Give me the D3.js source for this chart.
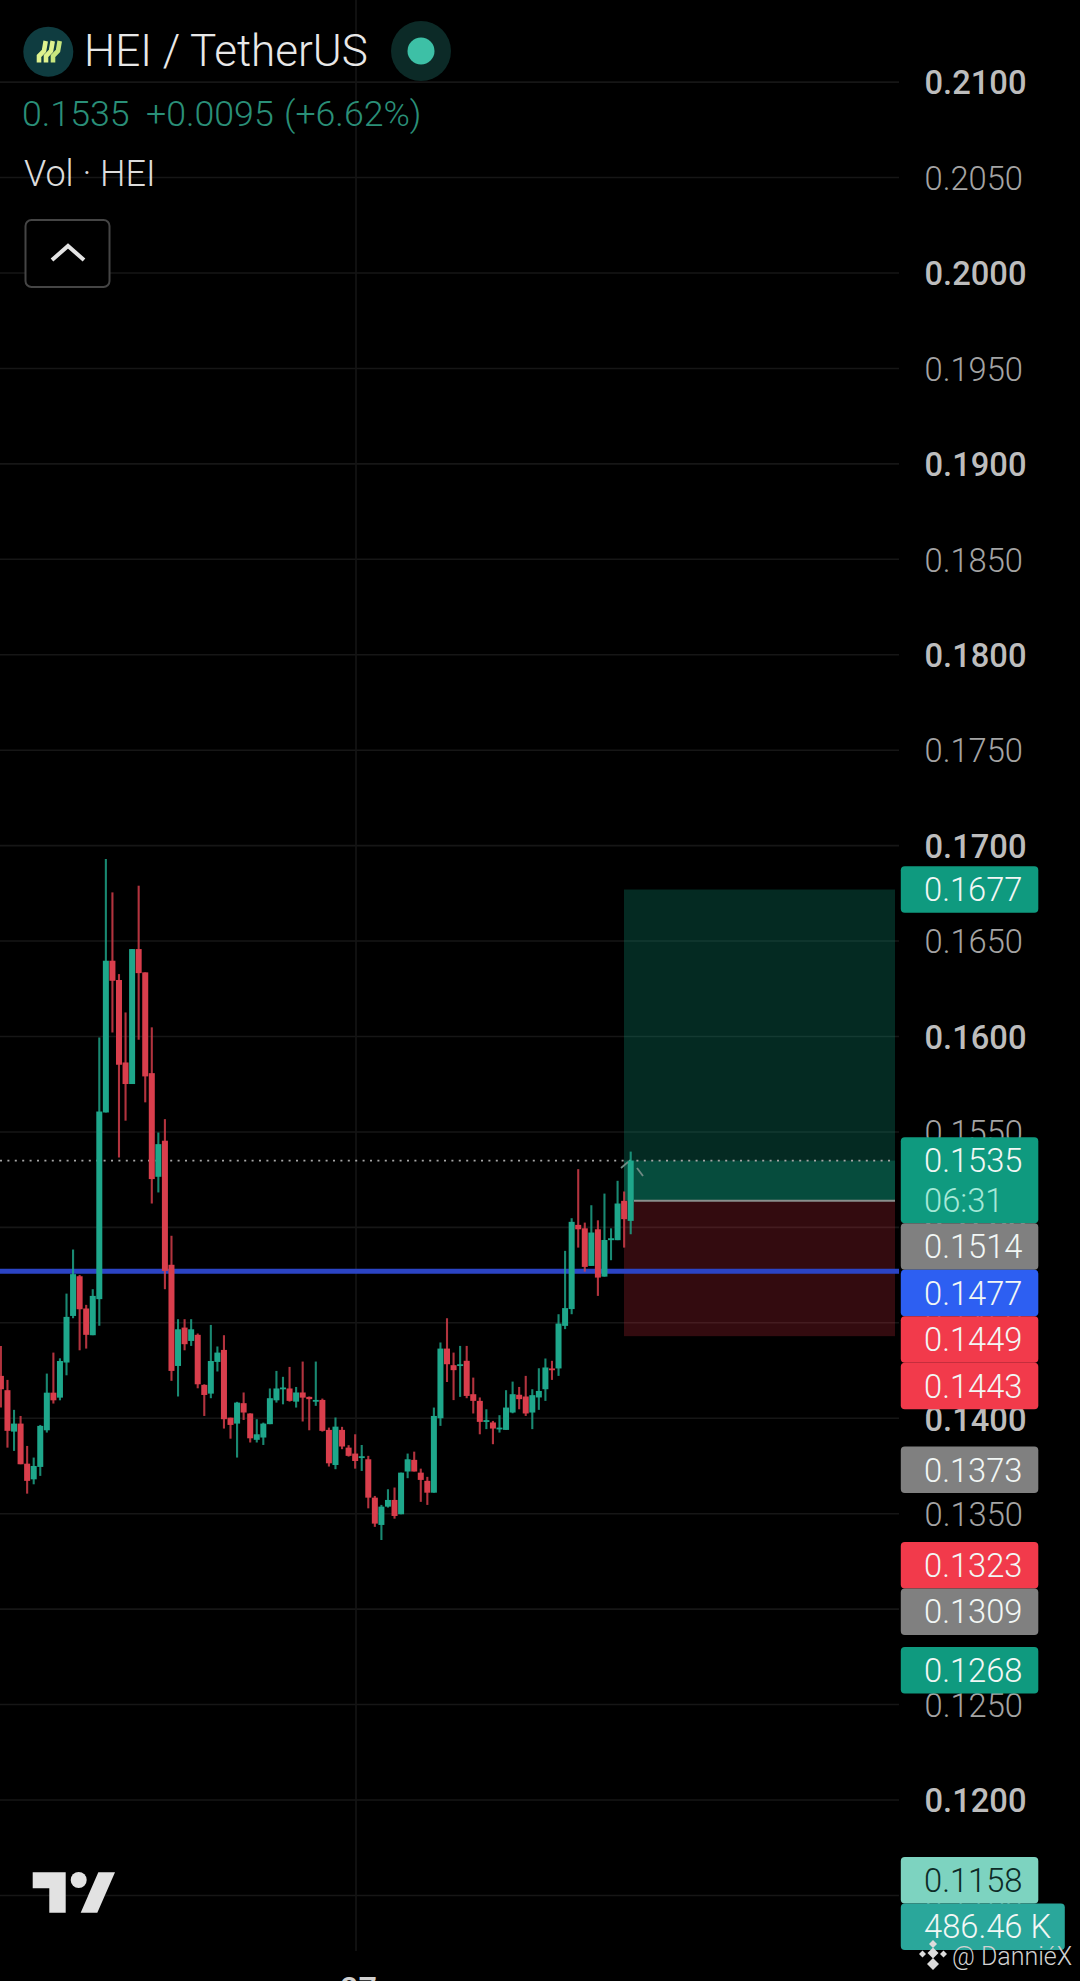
<!DOCTYPE html>
<html><head><meta charset="utf-8">
<script src="https://cdn.jsdelivr.net/npm/d3@7/dist/d3.min.js"></script>
<style>
html,body{margin:0;padding:0;background:#000;width:1080px;height:1981px;overflow:hidden}
svg{display:block}
text{font-family:Roboto,sans-serif}
</style></head><body>
<svg id="c" width="1080" height="1981"></svg>
<script>
const highs=[.14379,.14201,.14044,.14012,.13855,.13794,.13965,.14234,.14344,.14314,
.14653,.14884,.14751,.14594,.14676,.15995,.16930,.16755,.16327,.16126,
.16458,.16790,.16336,.16048,.15497,.15567,.14956,.14519,.14519,.14519,
.14444,.14178,.14489,.14376,.14435,.14003,.14086,.14135,.14026,.13995,
.13977,.14156,.14248,.14217,.14269,.14164,.14297,.14114,.14297,.14103,
.13951,.14004,.13955,.13859,.13916,.13860,.13803,.13593,.13546,.13628,
.13637,.13715,.13815,.13825,.13736,.13693,.14056,.14397,.14524,.14344,
.14379,.14379,.14213,.14109,.14047,.13986,.14016,.14147,.14192,.14164,
.14222,.14152,.14262,.14313,.14301,.14545,.14877,.15048,.15305,.15025,
.15116,.15037,.15177,.14995,.15244,.15188,.15397];
const lows=[.14056,.13846,.13829,.13759,.13605,.13654,.13698,.13925,.14077,.14094,
.14225,.14524,.14356,.14365,.14435,.14484,.15602,.16021,.15366,.15559,
.15751,.15983,.15655,.15125,.15183,.14676,.14196,.14114,.14356,.14379,
.14157,.14012,.14105,.14245,.13946,.13893,.13794,.13991,.13873,.13873,
.13860,.13969,.14082,.14073,.14087,.14056,.13983,.13937,.14065,.13930,
.13747,.13733,.13838,.13799,.13736,.13724,.13528,.13431,.13362,.13532,
.13474,.13497,.13686,.13721,.13562,.13546,.13610,.13960,.14190,.14095,
.14112,.14105,.14025,.13916,.13943,.13864,.13925,.13939,.14026,.14047,
.14012,.13943,.14044,.14091,.14201,.14222,.14467,.14545,.14894,.14768,
.14798,.14641,.14742,.14828,.14933,.14894,.14964];
const opens=[.14222,.14147,.13930,.13972,.13762,.13680,.13745,.13937,.14134,.14108,
.14292,.14536,.14744,.14575,.14435,.14624,.15602,.16397,.16296,.15864,
.15751,.16458,.16336,.15808,.15265,.15454,.14804,.14274,.14475,.14405,
.14437,.14175,.14129,.14295,.14358,.14003,.13972,.14079,.14025,.13887,
.13899,.13969,.14094,.14152,.14156,.14087,.14135,.14112,.14091,.14096,
.13939,.13755,.13939,.13846,.13815,.13794,.13785,.13584,.13441,.13537,
.13572,.13497,.13721,.13782,.13715,.13672,.13610,.14000,.14365,.14278,
.14275,.14301,.14126,.14091,.13981,.13978,.13943,.13939,.14030,.14123,
.14114,.14030,.14109,.14152,.14261,.14261,.14484,.14572,.15013,.14995,
.14798,.14990,.14742,.14933,.14933,.15139,.15034];
const closes=[.14152,.13934,.13972,.13759,.13672,.13750,.13960,.14134,.14094,.14300,
.14531,.14755,.14571,.14437,.14641,.15607,.16397,.16292,.15852,.15751,
.16458,.16332,.15791,.15253,.15436,.14772,.14248,.14466,.14388,.14466,
.14178,.14122,.14300,.14344,.13995,.13965,.14082,.14030,.13895,.13916,
.13972,.14105,.14156,.14161,.14091,.14135,.14108,.14100,.14096,.13934,
.13764,.13956,.13852,.13803,.13776,.13801,.13584,.13448,.13537,.13572,
.13488,.13715,.13785,.13721,.13677,.13610,.14012,.14365,.14283,.14252,
.14283,.14117,.14091,.13981,.13990,.13946,.13951,.14056,.14126,.14100,
.14025,.14121,.14143,.14266,.14252,.14496,.14577,.15029,.14990,.14793,
.14973,.14737,.14934,.14943,.15125,.15043,.15350];
const priceTicks=[.21,.205,.2,.195,.19,.185,.18,.175,.17,.165,.16,.155,.15,.145,.14,.135,.13,.125,.12,.115];
const lastPrice=.1535, supportLevel=.1477;
const targetPrice=.1677, entryPrice=.1514, stopPrice=.1443;
const tagLabels=["0.1677","0.1535","0.1514","0.1477","0.1449","0.1443","0.1373","0.1323","0.1309","0.1268","0.1158","486.46 K"];
const tagValues=[.1677,.1535,.1514,.1477,.1449,.1443,.1373,.1323,.1309,.1268,.1158,null];
const tagKinds=["up","last","flat","level","down","down","flat","down","flat","up","pale","vol"];
const timeLabel="27";

const kindFill={up:"#0f9a7f",last:"#0f9a7f",flat:"#808080",level:"#2d5ff2",down:"#f23a4b",pale:"#7dd3c0",vol:"#2aa79b"};
const svg=d3.select("#c");
const y=d3.scaleLinear().domain([.2,.12]).range([273,1800]);
const x=d3.scaleLinear().domain([0,96]).range([.9,630.7]);
const PLOT_R=899;
const GREEN="#1ea78b",RED="#d93e4c";

// grid
svg.append("g").selectAll("line").data(priceTicks).join("line")
 .attr("x1",0).attr("x2",PLOT_R).attr("y1",d=>y(d)).attr("y2",d=>y(d))
 .attr("stroke","#161616").attr("stroke-width",1.6);
svg.append("line").attr("x1",356).attr("x2",356).attr("y1",0).attr("y2",1951)
 .attr("stroke","#151515").attr("stroke-width",1.6);

// position tool
const bx=624,bw=271;
const box=(a,b,f)=>svg.append("rect").attr("x",bx).attr("width",bw).attr("y",y(a)).attr("height",y(b)-y(a)).attr("fill",f);
box(targetPrice,entryPrice,"rgba(14,154,126,.27)");
box(lastPrice,entryPrice,"rgba(14,154,126,.3)");
box(entryPrice,stopPrice,"rgba(242,54,69,.21)");
svg.append("line").attr("x1",634).attr("x2",bx+bw).attr("y1",y(entryPrice)).attr("y2",y(entryPrice)).attr("stroke","#8a8f8c").attr("stroke-width",2);

// level line
svg.append("line").attr("x1",0).attr("x2",PLOT_R).attr("y1",y(supportLevel)).attr("y2",y(supportLevel))
 .attr("stroke","#2b44c4").attr("stroke-width",5);
// last price dotted
svg.append("line").attr("x1",0).attr("x2",bx+bw).attr("y1",y(lastPrice)).attr("y2",y(lastPrice))
 .attr("stroke","#a5a5a5").attr("stroke-width",1.8).attr("stroke-dasharray","2 5.4");

// candles
const idx=d3.range(closes.length);
const up=i=>closes[i]>=opens[i];
const cg=svg.append("g");
cg.selectAll("line").data(idx).join("line")
 .attr("x1",x).attr("x2",x).attr("y1",i=>y(highs[i])).attr("y2",i=>y(lows[i]))
 .attr("stroke",i=>up(i)?GREEN:RED).attr("stroke-width",2.1).attr("stroke-opacity",.82);
cg.selectAll("rect").data(idx).join("rect")
 .attr("x",i=>x(i)-3).attr("width",6)
 .attr("y",i=>y(Math.max(opens[i],closes[i])))
 .attr("height",i=>Math.max(1.8,Math.abs(y(opens[i])-y(closes[i]))))
 .attr("fill",i=>up(i)?GREEN:RED);
// small marks by the last candle
[[621,1168,628,1162],[637,1168,643,1176]].forEach(s=>svg.append("line")
 .attr("x1",s[0]).attr("y1",s[1]).attr("x2",s[2]).attr("y2",s[3]).attr("stroke","#6f8a84").attr("stroke-width",1.8));

// price axis
const axis=d3.axisRight(y).tickValues(priceTicks).tickFormat(d3.format(".4f")).tickSize(0).tickPadding(0);
const ag=svg.append("g").attr("transform","translate(924.5,0)").call(axis);
ag.select(".domain").remove();
ag.selectAll("text")
 .style("font-family","Roboto,sans-serif").style("font-size","32.7px")
 .attr("x",0).attr("dy","0.36em")
 .style("font-weight",d=>Math.round(d*1000)%10===0?500:300)
 .attr("fill",d=>Math.round(d*1000)%10===0?"#bdbdbd":"#a4a4a4");

// tags, stacked so that they do not overlap
const TAG_H=46.5,TAG_X=900.8,TAG_W=137.5;
let prevBottom=-Infinity;
tagLabels.forEach((lab,i)=>{
  const kind=tagKinds[i];
  const h=kind==="last"?86:TAG_H;
  const want=tagValues[i]==null?prevBottom:y(tagValues[i])-TAG_H/2;
  const top=Math.max(want,prevBottom);
  prevBottom=top+h;
  svg.append("rect").attr("x",TAG_X).attr("y",top).attr("width",kind==="vol"?164:TAG_W).attr("height",h).attr("rx",4)
   .attr("fill",kindFill[kind]);
  svg.append("text").attr("x",924).attr("y",top+TAG_H/2).attr("dy","0.36em")
   .attr("font-size",32.7).attr("font-weight",300).attr("fill",kind==="pale"?"#0d2b27":"#f2f7f5").text(lab);
  if(kind==="last"){
    svg.append("text").attr("x",924).attr("y",top+63).attr("dy","0.36em")
     .attr("font-size",32.7).attr("font-weight",300).attr("fill","#a6e8d8").text("06:31");
  }
});

// header
svg.append("circle").attr("cx",48.3).attr("cy",51.7).attr("r",25).attr("fill","#0f3c40");
[0,7,14].forEach(o=>svg.append("path")
 .attr("d",`M${45.7+o} 41 L${44+o} 51 L${39+o} 56 L${39+o} 62.5`)
 .attr("fill","none").attr("stroke",o===14?"#c8e67e":"#dff28e").attr("stroke-width",4.6));
svg.append("text").attr("x",84).attr("y",65.5).attr("font-size",44).attr("font-weight",300).attr("fill","#e8e8e8").text("HEI / TetherUS");
svg.append("circle").attr("cx",421).attr("cy",51).attr("r",30).attr("fill","#0c2a27");
svg.append("circle").attr("cx",421).attr("cy",51).attr("r",13.5).attr("fill","#3dc0a6");
const hdr=svg.append("g").attr("font-size",35.7).attr("font-weight",300).attr("fill","#2a8f78");
hdr.append("text").attr("x",22).attr("y",125.5).text("0.1535");
hdr.append("text").attr("x",146).attr("y",125.5).text("+0.0095");
hdr.append("text").attr("x",284).attr("y",125.5).text("(+6.62%)");
svg.append("text").attr("x",24).attr("y",186).attr("font-size",36).attr("font-weight",300).attr("fill","#dcdcdc").text("Vol · HEI");
svg.append("rect").attr("x",25.5).attr("y",220).attr("width",84).attr("height",67).attr("rx",6).attr("fill","#000").attr("stroke","#454545").attr("stroke-width",2);
svg.append("path").attr("d","M52 260 L68 246 L84 260").attr("fill","none").attr("stroke","#e4e4e4").attr("stroke-width",4);

// bottom time label
svg.append("text").attr("x",340).attr("y",2001).attr("font-size",32.5).attr("font-weight",500).attr("fill","#d0d0d0").text(timeLabel);

// TV logo
const logo=svg.append("g").attr("fill","#e2e2e2");
logo.append("path").attr("d","M32.7 1872.3H65.7V1912.7H49.3V1888.3H32.7Z");
logo.append("circle").attr("cx",78.7).attr("cy",1880).attr("r",8);
logo.append("path").attr("d","M98.3 1872.3H115L97.3 1912.7H80.7Z");

// watermark
const wm=svg.append("g").attr("fill","#dcdcdc");
[[933,1944,4],[922.5,1954,3.5],[943.5,1954,3.5],[933,1953,5.5],[933,1964,6]].forEach(d=>{
 wm.append("path").attr("d",`M${d[0]} ${d[1]-d[2]}L${d[0]+d[2]} ${d[1]}L${d[0]} ${d[1]+d[2]}L${d[0]-d[2]} ${d[1]}Z`);
});
wm.append("text").attr("x",952).attr("y",1965).attr("font-size",25).attr("font-weight",300).attr("fill","#d2d2d2").text("@ DanniéX");
</script>
</body></html>
